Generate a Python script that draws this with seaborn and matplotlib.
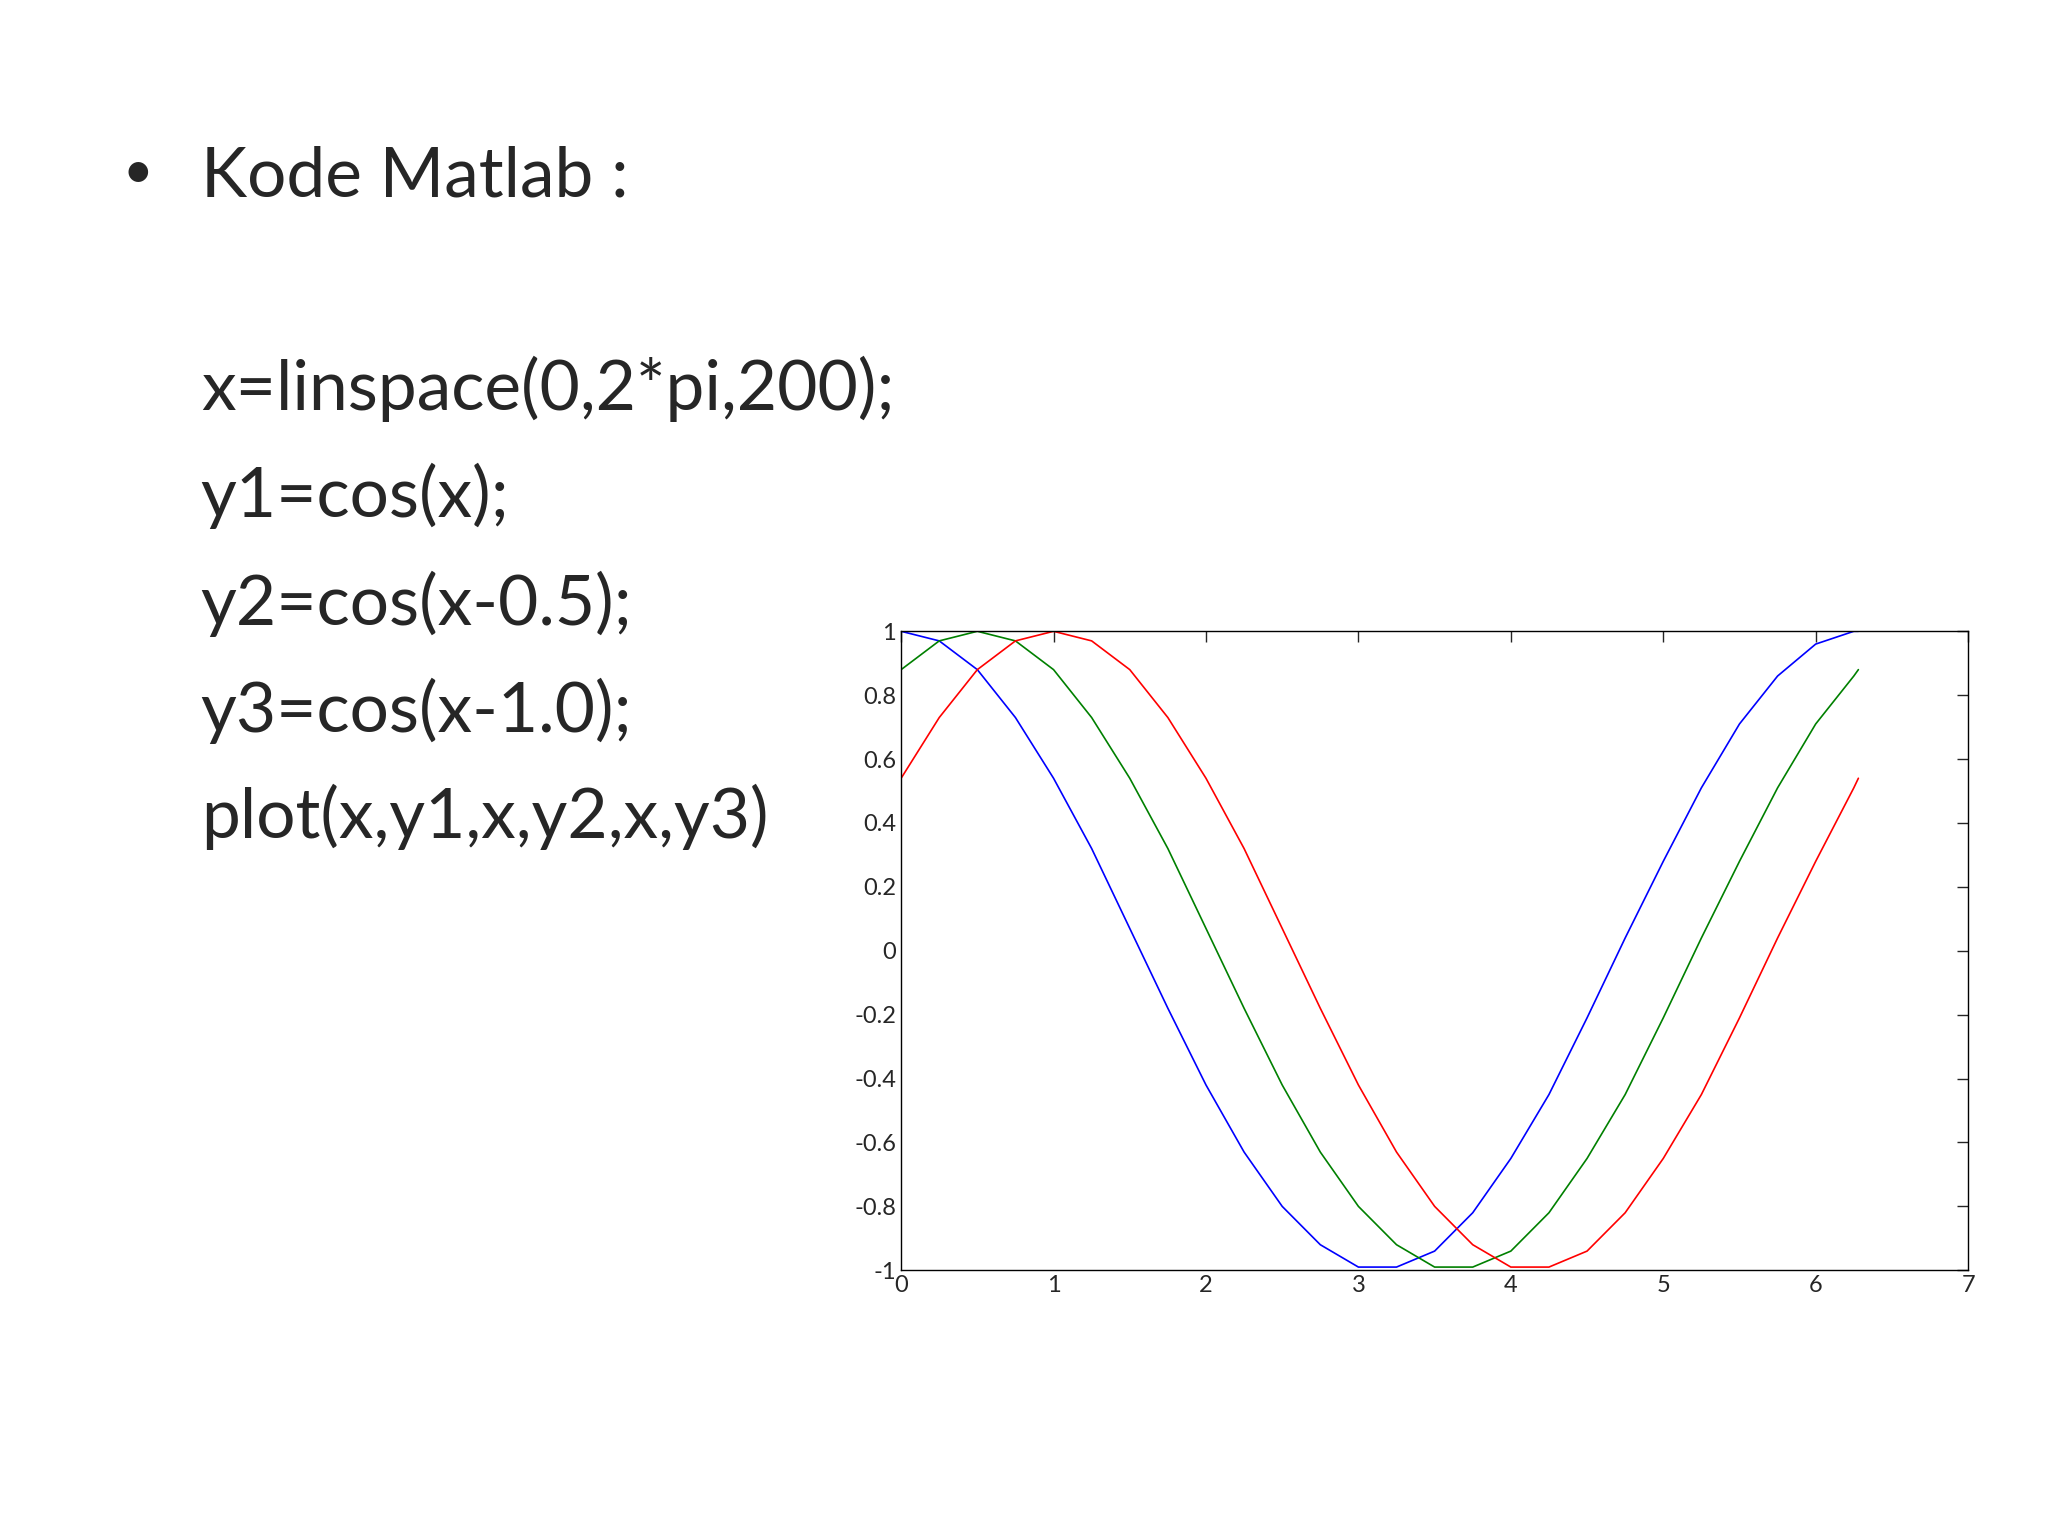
import matplotlib
matplotlib.use("Agg")
import matplotlib.pyplot as plt
import seaborn as sns
import pandas as pd

x = [0, 0.25, 0.5, 0.75, 1.0, 1.25, 1.5, 1.75, 2.0, 2.25, 2.5, 2.75, 3.0, 3.25,
     3.5, 3.75, 4.0, 4.25, 4.5, 4.75, 5.0, 5.25, 5.5, 5.75, 6.0, 6.25, 6.28]
y1 = [1.00, 0.97, 0.88, 0.73, 0.54, 0.32, 0.07, -0.18, -0.42, -0.63, -0.80, -0.92, -0.99, -0.99,
      -0.94, -0.82, -0.65, -0.45, -0.21, 0.04, 0.28, 0.51, 0.71, 0.86, 0.96, 1.00, 1.00]
y2 = [0.88, 0.97, 1.00, 0.97, 0.88, 0.73, 0.54, 0.32, 0.07, -0.18, -0.42, -0.63, -0.80, -0.92,
      -0.99, -0.99, -0.94, -0.82, -0.65, -0.45, -0.21, 0.04, 0.28, 0.51, 0.71, 0.86, 0.88]
y3 = [0.54, 0.73, 0.88, 0.97, 1.00, 0.97, 0.88, 0.73, 0.54, 0.32, 0.07, -0.18, -0.42, -0.63,
      -0.80, -0.92, -0.99, -0.99, -0.94, -0.82, -0.65, -0.45, -0.21, 0.04, 0.28, 0.51, 0.54]
xticks = [0, 1, 2, 3, 4, 5, 6, 7]
yticks = [-1, -0.8, -0.6, -0.4, -0.2, 0, 0.2, 0.4, 0.6, 0.8, 1]
ytick_labels = ["-1", "-0.8", "-0.6", "-0.4", "-0.2", "0", "0.2", "0.4", "0.6", "0.8", "1"]
code_lines = ["x=linspace(0,2*pi,200);", "y1=cos(x);", "y2=cos(x-0.5);", "y3=cos(x-1.0);",
              "plot(x,y1,x,y2,x,y3)"]

sns.set_style("white")
plt.rcParams['font.family'] = ['Lato', 'DejaVu Sans']

fig = plt.figure(figsize=(20.48, 15.36), dpi=100)
fig.text(0.060, 0.887, "•", fontsize=38, va="center")
fig.text(0.098, 0.885, "Kode Matlab :", fontsize=50, va="center")
ys = [0.747, 0.677, 0.607, 0.537, 0.468]
for t, yy in zip(code_lines, ys):
    fig.text(0.098, yy, t, fontsize=50, va="center")

ax = fig.add_axes([0.44, 0.173, 0.521, 0.416])
df = pd.DataFrame({"x": x, "y1": y1, "y2": y2, "y3": y3})
for col, c in zip(["y1", "y2", "y3"], ["#0000ff", "#008000", "#ff0000"]):
    sns.lineplot(data=df, x="x", y=col, ax=ax, color=c, lw=1.2)
ax.set_xlim(0, 7)
ax.set_ylim(-1, 1)
ax.set_xticks(xticks)
ax.set_yticks(yticks)
ax.set_yticklabels(ytick_labels)
ax.set_xlabel("")
ax.set_ylabel("")
ax.tick_params(direction="in", top=True, right=True, length=8, width=1, labelsize=17)
for s in ax.spines.values():
    s.set_color("black")
    s.set_linewidth(1)
fig.savefig("out.png", facecolor="white")
